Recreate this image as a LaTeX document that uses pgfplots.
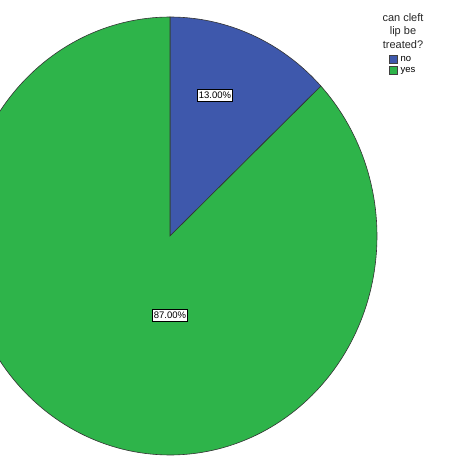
\documentclass[border=0pt]{standalone}
\usepackage{pgfplots}
\pgfplotsset{compat=1.18}
\usepackage{pgfplotstable}
\usepackage{fontspec}
\setmainfont{Liberation Sans}

\definecolor{spssblue}{HTML}{3E58AC}
\definecolor{spssgreen}{HTML}{2EB44A}

\pgfplotstableread{
label value
no    13
yes   87
}\piedata

\begin{document}
\begin{tikzpicture}
\pgfplotstablegetelem{0}{value}\of\piedata \let\vno\pgfplotsretval
\pgfmathsetmacro\angB{90-3.6*\vno}
\begin{axis}[
    name=ax,
    scale only axis,
    width=474pt, height=474pt,
    xmin=-170, xmax=304,
    ymin=-238, ymax=236,
    hide axis,
    legend cell align=left,
    legend style={at={(axis cs:219,181)}, anchor=north west, draw=none, fill=none,
        inner sep=0pt, row sep=2.5pt,
        font=\fontsize{9.5}{10}\selectfont,
        nodes={inner sep=0.5pt},
        /tikz/every odd column/.append style={column sep=2.5pt}},
    legend image code/.code={\draw[#1, draw=black!75, line width=0.4pt] (0pt,-4pt) rectangle (8pt,4pt);},
]
\addplot[fill=spssblue, draw=black!80, line width=0.6pt, domain=\angB:90, samples=60]
    ({207*cos(x)},{219*sin(x)}) -- (0,0) -- cycle;
\addlegendentry{no}
\addplot[fill=spssgreen, draw=black!80, line width=0.6pt, domain=-270:\angB, samples=200]
    ({207*cos(x)},{219*sin(x)}) -- (0,0) -- cycle;
\addlegendentry{yes}

\node[draw=black, fill=white, inner xsep=1.5pt, inner ysep=2.5pt, line width=0.6pt, font=\fontsize{9.5}{10}\selectfont]
    at (axis cs:45,141) {13.00\%};
\node[draw=black, fill=white, inner xsep=1.5pt, inner ysep=2.5pt, line width=0.6pt, font=\fontsize{9.5}{10}\selectfont]
    at (axis cs:0,-79) {87.00\%};
\node[align=center, text=black!85, font=\fontsize{11}{13.5}\selectfont]
    at (axis cs:233,205) {can cleft\\lip be\\treated?};
\end{axis}
\pgfresetboundingbox
\path[use as bounding box] (ax.south west) rectangle (ax.north east);
\end{tikzpicture}
\end{document}
